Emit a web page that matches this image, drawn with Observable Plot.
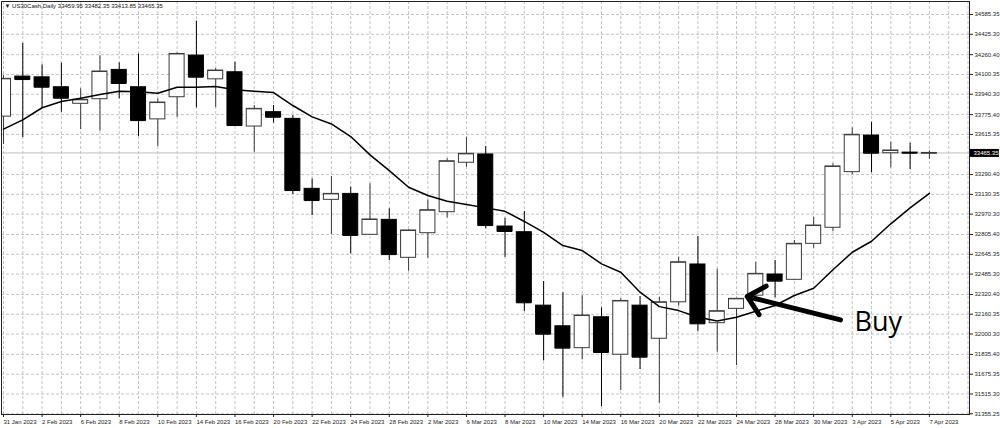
<!DOCTYPE html>
<html>
<head>
<meta charset="utf-8">
<script src="https://cdn.jsdelivr.net/npm/d3@7"></script>
<script src="https://cdn.jsdelivr.net/npm/@observablehq/plot@0.6"></script>
<style>
  html, body { margin: 0; padding: 0; background: #fff; }
  #chart { width: 1000px; height: 428px; overflow: hidden; }
  #chart svg { display: block; }
</style>
</head>
<body>
<div id="chart"></div>
<script>
// ---- data ----
const days = ["31 Jan 2023","1 Feb 2023","2 Feb 2023","3 Feb 2023","6 Feb 2023","7 Feb 2023","8 Feb 2023","9 Feb 2023","10 Feb 2023","13 Feb 2023","14 Feb 2023","15 Feb 2023","16 Feb 2023","17 Feb 2023","20 Feb 2023","21 Feb 2023","22 Feb 2023","23 Feb 2023","24 Feb 2023","27 Feb 2023","28 Feb 2023","1 Mar 2023","2 Mar 2023","3 Mar 2023","6 Mar 2023","7 Mar 2023","8 Mar 2023","9 Mar 2023","10 Mar 2023","13 Mar 2023","14 Mar 2023","15 Mar 2023","16 Mar 2023","17 Mar 2023","20 Mar 2023","21 Mar 2023","22 Mar 2023","23 Mar 2023","24 Mar 2023","27 Mar 2023","28 Mar 2023","29 Mar 2023","30 Mar 2023","31 Mar 2023","3 Apr 2023","4 Apr 2023","5 Apr 2023","6 Apr 2023","7 Apr 2023"];
const opens  = [33759,34083,34077,33997,33863,33900,34137,33997,33737,33916,34253,34061,34118,33679,33795,33741,33175,33086,33134,32803,32924,32617,32816,32986,33386,33453,32870,32824,32230,32063,31886,32136,31833,32230,31962,32257,32563,32088,32204,32311,32482,32439,32730,32860,33310,33606,33463,33468,33459.95];
const highs  = [34091,34352,34178,34191,33984,34253,34194,34266,33903,34275,34532,34148,34199,33849,33849,33767,33255,33274,33188,33215,33013,32844,33086,33418,33592,33517,32937,32991,32425,32334,32311,32212,32285,32303,32298,32621,32789,32525,32291,32581,32595,32756,32945,33377,33668,33713,33552,33544,33482.35];
const lows   = [33533,33590,33831,33795,33654,33641,33903,33598,33517,33754,33831,33833,33679,33471,33707,33129,32959,32806,32649,32798,32595,32508,32613,32940,33350,32852,32621,32182,31783,31489,31792,31414,31543,31713,31441,32225,32021,31854,31745,32295,32293,32433,32694,32830,33289,33305,33345,33329,33413.85];
const closes = [34065,34059,33997,33908,33895,34124,34027,33727,33873,34266,34078,34132,33687,33822,33754,33161,33080,33134,32798,32927,32643,32838,33002,33398,33458,32878,32830,32253,31999,31886,32150,31851,32268,31813,32257,32581,32083,32185,32285,32487,32428,32730,32878,33356,33612,33463,33485,33463,33465.35];
const maValues = [33658,33733,33831,33881,33908,33938,33965,33960,33948,33997,33997,34003,33976,33965,33954,33849,33757,33700,33598,33450,33322,33188,33121,33075,33048,33021,32993,32911,32823,32716,32676,32568,32500,32339,32222,32190,32136,32105,32136,32185,32231,32312,32371,32520,32662,32751,32892,33021,33139];
const yTicks = [34585.35,34425.30,34260.40,34100.35,33940.30,33775.40,33615.35,33290.40,33130.35,32970.30,32805.40,32645.35,32485.30,32320.40,32160.35,32000.30,31835.40,31675.35,31515.30,31355.25];
const xTickLabels = ["31 Jan 2023","2 Feb 2023","6 Feb 2023","8 Feb 2023","10 Feb 2023","14 Feb 2023","16 Feb 2023","20 Feb 2023","22 Feb 2023","24 Feb 2023","28 Feb 2023","2 Mar 2023","6 Mar 2023","8 Mar 2023","10 Mar 2023","14 Mar 2023","16 Mar 2023","20 Mar 2023","22 Mar 2023","24 Mar 2023","28 Mar 2023","30 Mar 2023","3 Apr 2023","5 Apr 2023","7 Apr 2023"];
const titleText = "\u25BC US30Cash,Daily 33459.95 33482.35 33413.85 33465.35";
const bidPrice = 33465.35;
const buyArrow = [{from: 43.39, fromPrice: 32115, to: 38.55, toPrice: 32304}];
const buyLabel = [{at: 44.12, price: 32096, text: "Buy"}];

// ---- build ----
const bars = days.map((day, i) => ({i, day, open: opens[i], high: highs[i], low: lows[i], close: closes[i], ma: maValues[i]}));
const bulls = bars.filter(d => d.close >= d.open);
const bears = bars.filter(d => d.close < d.open);
const half = 0.39;
const xTicks = xTickLabels.map(l => days.indexOf(l));
const xDomain = [-0.1037, 50.078];
const bullColor = "#3a3a3a";

const chart = Plot.plot({
  width: 1000,
  height: 428,
  marginLeft: 1,
  marginRight: 31,
  marginTop: 1,
  marginBottom: 14,
  style: {fontFamily: "'Liberation Sans', Arial, sans-serif", fontSize: "6px", background: "#fff", overflow: "visible", color: "#111"},
  x: {domain: xDomain, axis: null},
  y: {domain: [31349.35, 34690.5], axis: null},
  marks: [
    Plot.gridX({ticks: d3.range(0, 51), stroke: "#c4c4c4", strokeOpacity: 1, strokeDasharray: "3,2"}),
    Plot.gridY({ticks: yTicks, stroke: "#c4c4c4", strokeOpacity: 1, strokeDasharray: "3,2"}),
    Plot.ruleY([bidPrice], {stroke: "#c0c0c0", strokeWidth: 1}),
    // wicks
    Plot.ruleX(bears, {x: "i", y1: "low", y2: "high", stroke: "#000", clip: true}),
    Plot.ruleX(bulls, {x: "i", y1: "low", y2: "high", stroke: bullColor, clip: true}),
    // bodies
    Plot.rect(bears, {x1: d => d.i - half, x2: d => d.i + half, y1: "open", y2: "close", fill: "#000", stroke: "#000", clip: true}),
    Plot.rect(bulls, {x1: d => d.i - half, x2: d => d.i + half, y1: "open", y2: "close", fill: "#fff", stroke: bullColor, clip: true}),
    Plot.ruleY(bears, {y: "close", x1: d => d.i - half, x2: d => d.i + half, stroke: "#000", clip: true}),
    Plot.ruleY(bulls, {y: "close", x1: d => d.i - half, x2: d => d.i + half, stroke: bullColor, clip: true}),
    // moving average
    Plot.line(bars, {x: "i", y: "ma", stroke: "#000", strokeWidth: 1.5, clip: true}),
    // annotation
    Plot.arrow(buyArrow, {x1: "from", y1: "fromPrice", x2: "to", y2: "toPrice", stroke: "#000", strokeWidth: 5, headLength: 6.5, headAngle: 85}),
    Plot.text(buyLabel, {x: "at", y: "price", text: "text", fontSize: 27, fontFamily: "'Open Sans', sans-serif", textAnchor: "start", fill: "#000"}),
    // frame & axes
    Plot.frame({stroke: "#222"}),
    Plot.axisY({ticks: yTicks, anchor: "right", tickSize: 3, tickPadding: 2, tickFormat: d => d.toFixed(2), label: null, fontSize: 6, fill: "#222", stroke: "#222"}),
    Plot.axisX({ticks: xTicks, anchor: "bottom", tickSize: 3, tickPadding: 2, tickFormat: i => days[i], textAnchor: "start", label: null, fontSize: 6, fill: "#222", stroke: "#222"}),
    // bid price marker
    Plot.ruleY([bidPrice], {x1: xDomain[1] + 0.05, x2: xDomain[1] + 1.55, stroke: "#000", strokeWidth: 8}),
    Plot.text([bidPrice], {x: xDomain[1], y: d => d, text: d => d.toFixed(2), dx: 4, textAnchor: "start", fill: "#fff", fontSize: 6}),
    // title
    Plot.text([titleText], {frameAnchor: "top-left", text: d => d, dx: 3, dy: 2, textAnchor: "start", lineAnchor: "top", fill: "#111", fontSize: 6})
  ]
});
document.getElementById("chart").appendChild(chart);
</script>
</body>
</html>
